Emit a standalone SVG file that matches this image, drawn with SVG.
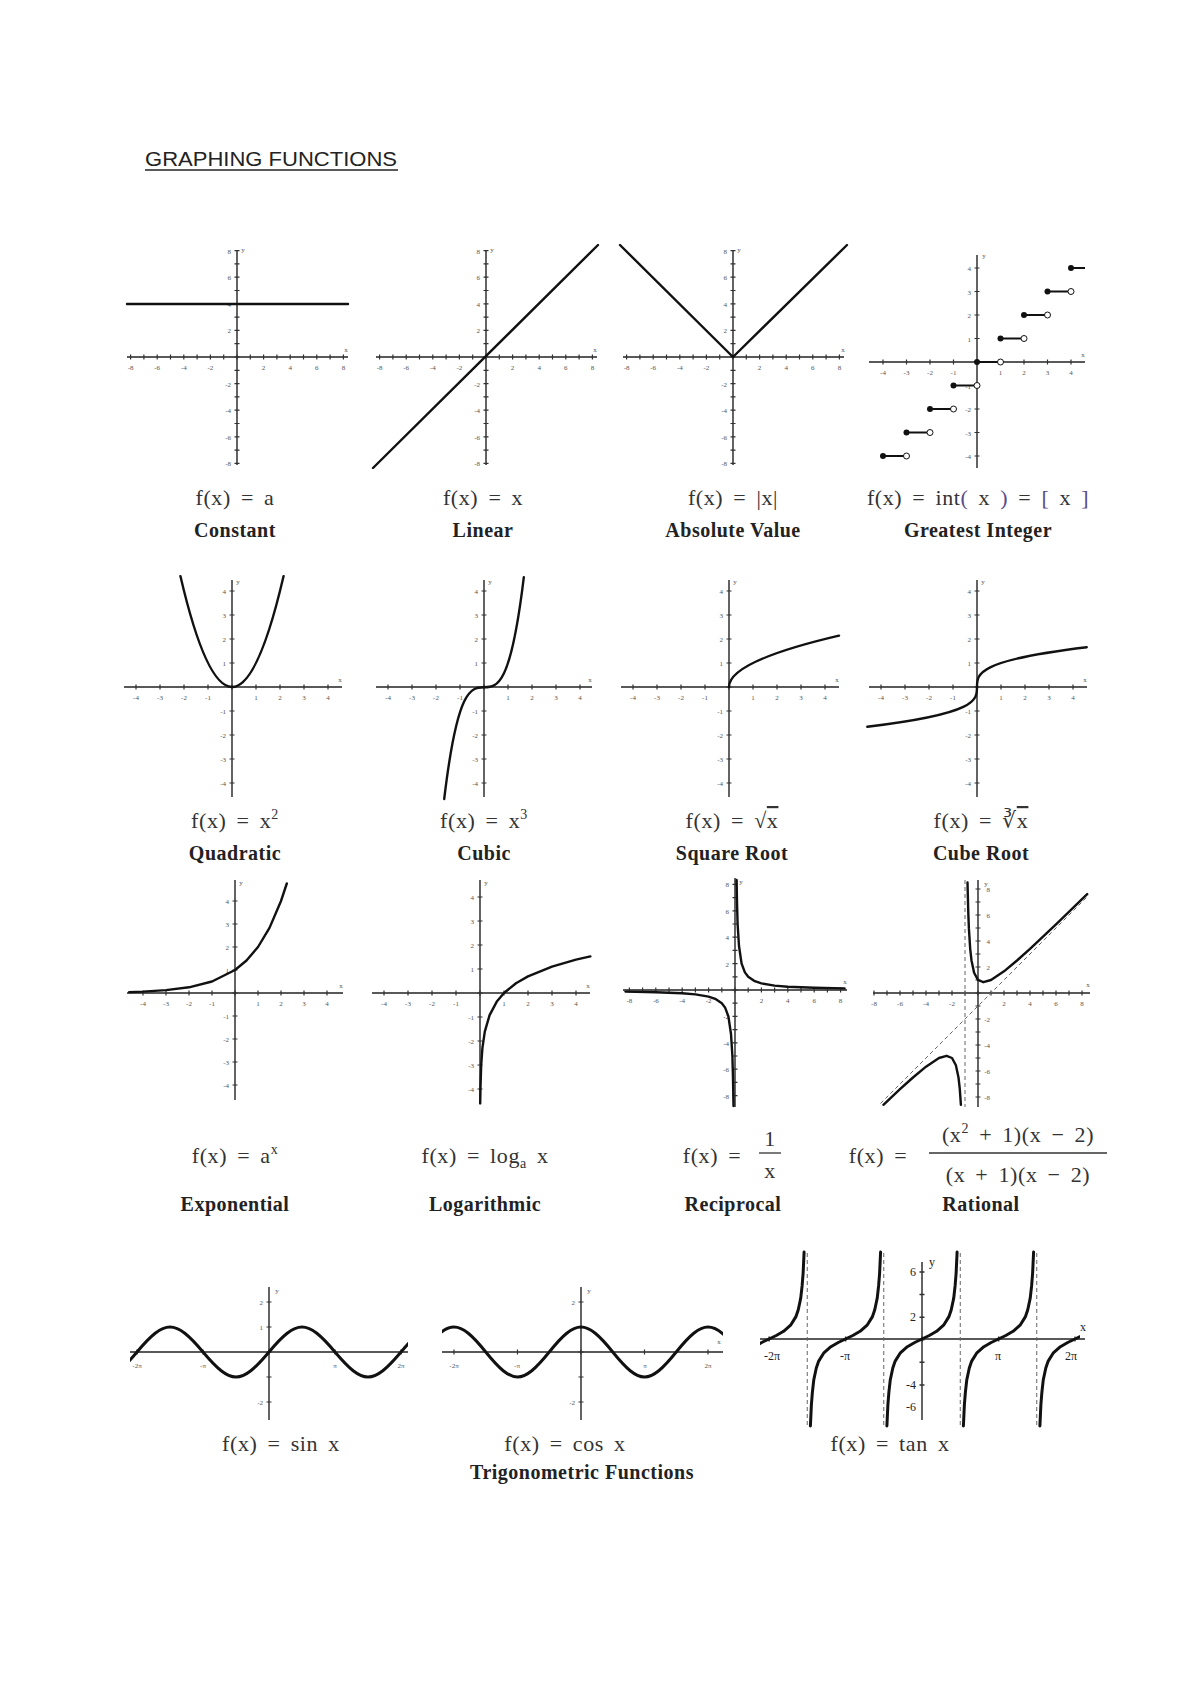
<svg xmlns="http://www.w3.org/2000/svg" xmlns:xlink="http://www.w3.org/1999/xlink" width="1200" height="1696" viewBox="0 0 1200 1696">
<style>
.ax{stroke:#222;stroke-width:1.4;fill:none}
.tk{stroke:#333;stroke-width:5;fill:none}
.cv{stroke:#111;stroke-width:2.4;fill:none;stroke-linejoin:round;stroke-linecap:round}
.cvt{stroke:#111;stroke-width:3;fill:none;stroke-linejoin:round;stroke-linecap:round}
.ds{stroke:#666;stroke-width:1;fill:none;stroke-dasharray:4 3}
.n{font-family:"Liberation Serif",serif;font-size:7px;fill:#555;text-anchor:middle}
.ny{font-family:"Liberation Serif",serif;font-size:7px;fill:#555;text-anchor:end}
.nt{font-family:"Liberation Serif",serif;font-size:12px;fill:#222;text-anchor:middle}
.nte{font-family:"Liberation Serif",serif;font-size:12px;fill:#222;text-anchor:end}
.f{font-family:"Liberation Serif",serif;font-size:22px;fill:#333;text-anchor:middle;letter-spacing:0.6px;word-spacing:4px}
.b{font-family:"Liberation Serif",serif;font-size:20px;font-weight:bold;fill:#222;text-anchor:middle;letter-spacing:0.5px}
.t{font-family:"Liberation Sans",sans-serif;font-size:20px;fill:#222}
</style>
<defs>
<clipPath id="csin"><rect x="130" y="1280" width="278" height="150"/></clipPath>
<clipPath id="ccos"><rect x="442" y="1280" width="281" height="150"/></clipPath>
<clipPath id="ctan"><rect x="760" y="1250" width="320" height="180"/></clipPath>
<path id="tb" d="M-35.1,87 L-34.1,65.5 -33.1,53.1 -31.7,40.7 -29.2,29 -26.8,22.1 -21.9,14.2 -14.6,7.7 -7.3,3.5 0,0 7.3,-3.5 14.6,-7.7 21.9,-14.2 26.8,-22.1 29.2,-29 31.7,-40.7 33.1,-53.1 34.1,-65.5 35.1,-87"/>
</defs>
<rect width="1200" height="1696" fill="#fff"/>
<text class="t" x="145" y="166" textLength="252" lengthAdjust="spacingAndGlyphs">GRAPHING FUNCTIONS</text>
<line x1="145" y1="170" x2="398" y2="170" stroke="#222" stroke-width="1.5"/>

<g id="constant">
<line class="ax" x1="127" y1="357" x2="348" y2="357"/><line class="ax" x1="237" y1="250" x2="237" y2="465"/>
<line class="tk" x1="130" y1="357" x2="344" y2="357" stroke-dasharray="1.2 12.1"/><line class="tk" x1="237" y1="250" x2="237" y2="464" stroke-dasharray="1.2 12.1"/>
<text class="n" y="370"><tspan x="130.6">-8</tspan><tspan x="157.2">-6</tspan><tspan x="183.8">-4</tspan><tspan x="210.4">-2</tspan><tspan x="263.6">2</tspan><tspan x="290.2">4</tspan><tspan x="316.8">6</tspan><tspan x="343.4">8</tspan><tspan x="346" y="352">x</tspan><tspan x="243" y="252">y</tspan></text>
<text class="ny"><tspan x="231" y="253.6">8</tspan><tspan x="231" y="280.2">6</tspan><tspan x="231" y="306.8">4</tspan><tspan x="231" y="333.4">2</tspan><tspan x="231" y="386.6">-2</tspan><tspan x="231" y="413.2">-4</tspan><tspan x="231" y="439.8">-6</tspan><tspan x="231" y="466.4">-8</tspan></text>
<line class="cv" x1="127" y1="304" x2="348" y2="304"/>
<text class="f" x="235" y="505">f(x) = a</text><text class="b" x="235" y="537">Constant</text>
</g>

<g id="linear">
<line class="ax" x1="376" y1="357" x2="597" y2="357"/><line class="ax" x1="486" y1="250" x2="486" y2="465"/>
<line class="tk" x1="379" y1="357" x2="593" y2="357" stroke-dasharray="1.2 12.1"/><line class="tk" x1="486" y1="250" x2="486" y2="464" stroke-dasharray="1.2 12.1"/>
<text class="n" y="370"><tspan x="379.6">-8</tspan><tspan x="406.2">-6</tspan><tspan x="432.8">-4</tspan><tspan x="459.4">-2</tspan><tspan x="512.6">2</tspan><tspan x="539.2">4</tspan><tspan x="565.8">6</tspan><tspan x="592.4">8</tspan><tspan x="595" y="352">x</tspan><tspan x="492" y="252">y</tspan></text>
<text class="ny"><tspan x="480" y="253.6">8</tspan><tspan x="480" y="280.2">6</tspan><tspan x="480" y="306.8">4</tspan><tspan x="480" y="333.4">2</tspan><tspan x="480" y="386.6">-2</tspan><tspan x="480" y="413.2">-4</tspan><tspan x="480" y="439.8">-6</tspan><tspan x="480" y="466.4">-8</tspan></text>
<line class="cv" x1="373" y1="468" x2="598" y2="245"/>
<text class="f" x="483" y="505">f(x) = x</text><text class="b" x="483" y="537">Linear</text>
</g>

<g id="absolute">
<line class="ax" x1="623" y1="357" x2="844" y2="357"/><line class="ax" x1="733" y1="250" x2="733" y2="465"/>
<line class="tk" x1="626" y1="357" x2="840" y2="357" stroke-dasharray="1.2 12.1"/><line class="tk" x1="733" y1="250" x2="733" y2="464" stroke-dasharray="1.2 12.1"/>
<text class="n" y="370"><tspan x="626.6">-8</tspan><tspan x="653.2">-6</tspan><tspan x="679.8">-4</tspan><tspan x="706.4">-2</tspan><tspan x="759.6">2</tspan><tspan x="786.2">4</tspan><tspan x="812.8">6</tspan><tspan x="839.4">8</tspan><tspan x="843" y="352">x</tspan><tspan x="739" y="252">y</tspan></text>
<text class="ny"><tspan x="727" y="253.6">8</tspan><tspan x="727" y="280.2">6</tspan><tspan x="727" y="306.8">4</tspan><tspan x="727" y="333.4">2</tspan><tspan x="727" y="386.6">-2</tspan><tspan x="727" y="413.2">-4</tspan><tspan x="727" y="439.8">-6</tspan><tspan x="727" y="466.4">-8</tspan></text>
<polyline class="cv" points="620,245 733,357 847,245"/>
<text class="f" x="733" y="505">f(x) = |x|</text><text class="b" x="733" y="537">Absolute Value</text>
</g>

<g id="greatest-integer">
<line class="ax" x1="869" y1="362" x2="1085" y2="362"/><line class="ax" x1="977" y1="255" x2="977" y2="468"/>
<line class="tk" x1="882.4" y1="362" x2="1071.6" y2="362" stroke-dasharray="1.2 22.3"/><line class="tk" x1="977" y1="267.4" x2="977" y2="456.6" stroke-dasharray="1.2 22.3"/>
<text class="n" y="375"><tspan x="883">-4</tspan><tspan x="906.5">-3</tspan><tspan x="930">-2</tspan><tspan x="953.5">-1</tspan><tspan x="1000.5">1</tspan><tspan x="1024">2</tspan><tspan x="1047.5">3</tspan><tspan x="1071">4</tspan><tspan x="1083" y="357">x</tspan><tspan x="984" y="258">y</tspan></text>
<text class="ny"><tspan x="971" y="271">4</tspan><tspan x="971" y="294.5">3</tspan><tspan x="971" y="318">2</tspan><tspan x="971" y="341.5">1</tspan><tspan x="971" y="388.5">-1</tspan><tspan x="971" y="412">-2</tspan><tspan x="971" y="435.5">-3</tspan><tspan x="971" y="459">-4</tspan></text>
<g stroke="#111" stroke-width="2">
<line x1="883" y1="456" x2="906.5" y2="456"/><line x1="906.5" y1="432.5" x2="930" y2="432.5"/><line x1="930" y1="409" x2="953.5" y2="409"/><line x1="953.5" y1="385.5" x2="977" y2="385.5"/><line x1="977" y1="362" x2="1000.5" y2="362"/><line x1="1000.5" y1="338.5" x2="1024" y2="338.5"/><line x1="1024" y1="315" x2="1047.5" y2="315"/><line x1="1047.5" y1="291.5" x2="1071" y2="291.5"/><line x1="1071" y1="268" x2="1085" y2="268"/>
</g>
<g fill="#111"><circle cx="883" cy="456" r="3"/><circle cx="906.5" cy="432.5" r="3"/><circle cx="930" cy="409" r="3"/><circle cx="953.5" cy="385.5" r="3"/><circle cx="977" cy="362" r="3"/><circle cx="1000.5" cy="338.5" r="3"/><circle cx="1024" cy="315" r="3"/><circle cx="1047.5" cy="291.5" r="3"/><circle cx="1071" cy="268" r="3"/></g>
<g fill="#fff" stroke="#111" stroke-width="1"><circle cx="906.5" cy="456" r="3"/><circle cx="930" cy="432.5" r="3"/><circle cx="953.5" cy="409" r="3"/><circle cx="977" cy="385.5" r="3"/><circle cx="1000.5" cy="362" r="3"/><circle cx="1024" cy="338.5" r="3"/><circle cx="1047.5" cy="315" r="3"/><circle cx="1071" cy="291.5" r="3"/></g>
<text class="f" x="978" y="505">f(x) = int<tspan fill="#5a4a8a">(</tspan> x <tspan fill="#5a4a8a">)</tspan> = <tspan fill="#5a4a8a">[</tspan> x <tspan fill="#5a4a8a">]</tspan></text><text class="b" x="978" y="537">Greatest Integer</text>
</g>

<g id="quadratic">
<line class="ax" x1="124" y1="687" x2="342" y2="687"/><line class="ax" x1="232" y1="580" x2="232" y2="797"/>
<line class="tk" x1="135.4" y1="687" x2="328.6" y2="687" stroke-dasharray="1.2 22.8"/><line class="tk" x1="232" y1="590.4" x2="232" y2="783.6" stroke-dasharray="1.2 22.8"/>
<text class="n" y="700"><tspan x="136">-4</tspan><tspan x="160">-3</tspan><tspan x="184">-2</tspan><tspan x="208">-1</tspan><tspan x="256">1</tspan><tspan x="280">2</tspan><tspan x="304">3</tspan><tspan x="328">4</tspan><tspan x="340" y="682">x</tspan><tspan x="238" y="584">y</tspan></text>
<text class="ny"><tspan x="226" y="594">4</tspan><tspan x="226" y="618">3</tspan><tspan x="226" y="642">2</tspan><tspan x="226" y="666">1</tspan><tspan x="226" y="714">-1</tspan><tspan x="226" y="738">-2</tspan><tspan x="226" y="762">-3</tspan><tspan x="226" y="786">-4</tspan></text>
<path class="cv" d="M180.4,576.1 Q232,797.9 283.6,576.1"/>
<text class="f" x="235" y="828">f(x) = x<tspan font-size="14" dy="-9">2</tspan></text><text class="b" x="235" y="860">Quadratic</text>
</g>

<g id="cubic">
<line class="ax" x1="376" y1="687" x2="592" y2="687"/><line class="ax" x1="484" y1="580" x2="484" y2="797"/>
<line class="tk" x1="387.4" y1="687" x2="580.6" y2="687" stroke-dasharray="1.2 22.8"/><line class="tk" x1="484" y1="590.4" x2="484" y2="783.6" stroke-dasharray="1.2 22.8"/>
<text class="n" y="700"><tspan x="388">-4</tspan><tspan x="412">-3</tspan><tspan x="436">-2</tspan><tspan x="460">-1</tspan><tspan x="508">1</tspan><tspan x="532">2</tspan><tspan x="556">3</tspan><tspan x="580">4</tspan><tspan x="590" y="682">x</tspan><tspan x="490" y="584">y</tspan></text>
<text class="ny"><tspan x="478" y="594">4</tspan><tspan x="478" y="618">3</tspan><tspan x="478" y="642">2</tspan><tspan x="478" y="666">1</tspan><tspan x="478" y="714">-1</tspan><tspan x="478" y="738">-2</tspan><tspan x="478" y="762">-3</tspan><tspan x="478" y="786">-4</tspan></text>
<path class="cv" d="M444.2,799 C470.7,577.3 497.3,796.7 523.8,577.3"/>
<text class="f" x="484" y="828">f(x) = x<tspan font-size="14" dy="-9">3</tspan></text><text class="b" x="484" y="860">Cubic</text>
</g>

<g id="square-root">
<line class="ax" x1="621" y1="687" x2="839" y2="687"/><line class="ax" x1="729" y1="580" x2="729" y2="797"/>
<line class="tk" x1="632.4" y1="687" x2="825.6" y2="687" stroke-dasharray="1.2 22.8"/><line class="tk" x1="729" y1="590.4" x2="729" y2="783.6" stroke-dasharray="1.2 22.8"/>
<text class="n" y="700"><tspan x="633">-4</tspan><tspan x="657">-3</tspan><tspan x="681">-2</tspan><tspan x="705">-1</tspan><tspan x="753">1</tspan><tspan x="777">2</tspan><tspan x="801">3</tspan><tspan x="825">4</tspan><tspan x="837" y="682">x</tspan><tspan x="735" y="584">y</tspan></text>
<text class="ny"><tspan x="723" y="594">4</tspan><tspan x="723" y="618">3</tspan><tspan x="723" y="642">2</tspan><tspan x="723" y="666">1</tspan><tspan x="723" y="714">-1</tspan><tspan x="723" y="738">-2</tspan><tspan x="723" y="762">-3</tspan><tspan x="723" y="786">-4</tspan></text>
<path class="cv" d="M729,687 Q729,661.3 839,635.6"/>
<text class="f" x="732" y="828">f(x) = √<tspan text-decoration="overline">x</tspan></text><text class="b" x="732" y="860">Square Root</text>
</g>

<g id="cube-root">
<line class="ax" x1="869" y1="687" x2="1087" y2="687"/><line class="ax" x1="977" y1="580" x2="977" y2="797"/>
<line class="tk" x1="880.4" y1="687" x2="1073.6" y2="687" stroke-dasharray="1.2 22.8"/><line class="tk" x1="977" y1="590.4" x2="977" y2="783.6" stroke-dasharray="1.2 22.8"/>
<text class="n" y="700"><tspan x="881">-4</tspan><tspan x="905">-3</tspan><tspan x="929">-2</tspan><tspan x="953">-1</tspan><tspan x="1001">1</tspan><tspan x="1025">2</tspan><tspan x="1049">3</tspan><tspan x="1073">4</tspan><tspan x="1085" y="682">x</tspan><tspan x="983" y="584">y</tspan></text>
<text class="ny"><tspan x="971" y="594">4</tspan><tspan x="971" y="618">3</tspan><tspan x="971" y="642">2</tspan><tspan x="971" y="666">1</tspan><tspan x="971" y="714">-1</tspan><tspan x="971" y="738">-2</tspan><tspan x="971" y="762">-3</tspan><tspan x="971" y="786">-4</tspan></text>
<path class="cv" d="M867.3,726.8 C1086.7,700.3 867.3,673.7 1086.7,647.2"/>
<text class="f" x="981" y="828">f(x) = ∛<tspan text-decoration="overline">x</tspan></text><text class="b" x="981" y="860">Cube Root</text>
</g>

<g id="exponential">
<line class="ax" x1="127" y1="993" x2="343" y2="993"/><line class="ax" x1="235" y1="880" x2="235" y2="1100"/>
<line class="tk" x1="142.4" y1="993" x2="327.6" y2="993" stroke-dasharray="1.2 21.8"/><line class="tk" x1="235" y1="900.4" x2="235" y2="1085.6" stroke-dasharray="1.2 21.8"/>
<text class="n" y="1006"><tspan x="143">-4</tspan><tspan x="166">-3</tspan><tspan x="189">-2</tspan><tspan x="212">-1</tspan><tspan x="258">1</tspan><tspan x="281">2</tspan><tspan x="304">3</tspan><tspan x="327">4</tspan><tspan x="341" y="988">x</tspan><tspan x="241" y="885">y</tspan></text>
<text class="ny"><tspan x="229" y="904">4</tspan><tspan x="229" y="927">3</tspan><tspan x="229" y="950">2</tspan><tspan x="229" y="973">1</tspan><tspan x="229" y="1019">-1</tspan><tspan x="229" y="1042">-2</tspan><tspan x="229" y="1065">-3</tspan><tspan x="229" y="1088">-4</tspan></text>
<polyline class="cv" points="129.2,992.1 143,991.6 166,990.1 189,987.3 212,981.5 235,970 246.5,960.5 258,947 269.5,927.9 281,901 286.8,883.5"/>
<text class="f" x="235" y="1163">f(x) = a<tspan font-size="14" dy="-9">x</tspan></text><text class="b" x="235" y="1211">Exponential</text>
</g>

<g id="logarithmic">
<line class="ax" x1="372" y1="993" x2="590" y2="993"/><line class="ax" x1="480" y1="880" x2="480" y2="1104"/>
<line class="tk" x1="383.4" y1="993" x2="576.6" y2="993" stroke-dasharray="1.2 22.8"/><line class="tk" x1="480" y1="896.4" x2="480" y2="1089.6" stroke-dasharray="1.2 22.8"/>
<text class="n" y="1006"><tspan x="384">-4</tspan><tspan x="408">-3</tspan><tspan x="432">-2</tspan><tspan x="456">-1</tspan><tspan x="504">1</tspan><tspan x="528">2</tspan><tspan x="552">3</tspan><tspan x="576">4</tspan><tspan x="588" y="988">x</tspan><tspan x="486" y="885">y</tspan></text>
<text class="ny"><tspan x="474" y="900">4</tspan><tspan x="474" y="924">3</tspan><tspan x="474" y="948">2</tspan><tspan x="474" y="972">1</tspan><tspan x="474" y="1020">-1</tspan><tspan x="474" y="1044">-2</tspan><tspan x="474" y="1068">-3</tspan><tspan x="474" y="1092">-4</tspan></text>
<polyline class="cv" points="480.2,1103.4 480.5,1086.8 481.2,1065 482.4,1048.2 484.8,1031.6 489.6,1015.1 496.8,1001.6 504,993 516,983.3 528,976.4 552,966.6 576,959.7 590.4,956.4"/>
<text class="f" x="485" y="1163">f(x) = log<tspan font-size="14" dy="5">a</tspan><tspan dy="-5"> x</tspan></text><text class="b" x="485" y="1211">Logarithmic</text>
</g>

<g id="reciprocal">
<line class="ax" x1="623" y1="990" x2="847" y2="990"/><line class="ax" x1="735" y1="878" x2="735" y2="1107"/>
<line class="tk" x1="628.8" y1="990" x2="841.2" y2="990" stroke-dasharray="1.2 12"/><line class="tk" x1="735" y1="883.8" x2="735" y2="1096.2" stroke-dasharray="1.2 12"/>
<text class="n" y="1003"><tspan x="629.4">-8</tspan><tspan x="655.8">-6</tspan><tspan x="682.2">-4</tspan><tspan x="708.6">-2</tspan><tspan x="761.4">2</tspan><tspan x="787.8">4</tspan><tspan x="814.2">6</tspan><tspan x="840.6">8</tspan><tspan x="845" y="984">x</tspan><tspan x="741" y="884">y</tspan></text>
<text class="ny"><tspan x="729" y="887.4">8</tspan><tspan x="729" y="913.8">6</tspan><tspan x="729" y="940.2">4</tspan><tspan x="729" y="966.6">2</tspan><tspan x="729" y="1019.4">-2</tspan><tspan x="729" y="1045.8">-4</tspan><tspan x="729" y="1072.2">-6</tspan><tspan x="729" y="1098.6">-8</tspan></text>
<polyline class="cv" points="736.6,880 737,902 737.6,924 739,946 741.6,963.6 744.9,972.4 748.2,976.8 754.8,981.2 761.4,983.4 774.6,985.6 787.8,986.7 814.2,987.8 844.6,988.4"/>
<polyline class="cv" points="733.5,1106 733,1078 732.4,1056 731,1034 728.4,1016.4 725.1,1007.6 721.8,1003.2 715.2,998.8 708.6,996.6 695.4,994.4 682.2,993.3 655.8,992.2 625.4,991.6"/>
<text class="f" x="712" y="1163">f(x) =</text><text class="f" x="770" y="1146" fill="#2e7d32">1</text><line x1="759" y1="1153" x2="781" y2="1153" stroke="#333" stroke-width="1.3"/><text class="f" x="770" y="1178">x</text>
<text class="b" x="733" y="1211">Reciprocal</text>
</g>

<g id="rational">
<line class="ax" x1="873" y1="993" x2="1090" y2="993"/><line class="ax" x1="978" y1="880" x2="978" y2="1107"/>
<line class="tk" x1="873.4" y1="993" x2="1082.6" y2="993" stroke-dasharray="1.2 11.8"/><line class="tk" x1="978" y1="888.4" x2="978" y2="1097.6" stroke-dasharray="1.2 11.8"/>
<text class="n" y="1006"><tspan x="874">-8</tspan><tspan x="900">-6</tspan><tspan x="926">-4</tspan><tspan x="952">-2</tspan><tspan x="1004">2</tspan><tspan x="1030">4</tspan><tspan x="1056">6</tspan><tspan x="1082">8</tspan><tspan x="1088" y="987">x</tspan><tspan x="986" y="886">y</tspan></text>
<text class="ny"><tspan x="990" y="892">8</tspan><tspan x="990" y="918">6</tspan><tspan x="990" y="944">4</tspan><tspan x="990" y="970">2</tspan><tspan x="990" y="1022">-2</tspan><tspan x="990" y="1048">-4</tspan><tspan x="990" y="1074">-6</tspan><tspan x="990" y="1100">-8</tspan></text>
<line class="ds" x1="965" y1="880" x2="965" y2="1107"/>
<line class="ds" x1="880.5" y1="1103.5" x2="1088.5" y2="895.5"/>
<polyline class="cv" points="967.5,882.5 968.25,911.75 968.9,928.4 970.2,948.8 971.5,960.5 974.1,972.8 978,980 983.4,982.2 991,980 1004,971.3 1017,960.5 1030,948.8 1056,924.3 1087.2,894.1"/>
<polyline class="cv" points="883.4,1104.8 900,1089.2 913,1077.5 926,1066.7 939,1058 946.6,1055.8 952,1058 955.9,1065.2 958.5,1077.5 959.8,1089.2 960.9,1104.8"/>
<text class="f" x="878" y="1163">f(x) =</text>
<text class="f" x="1018" y="1142">(x<tspan font-size="14" dy="-9">2</tspan><tspan dy="9"> + 1)(x − 2)</tspan></text>
<line x1="929" y1="1153" x2="1107" y2="1153" stroke="#333" stroke-width="1.3"/>
<text class="f" x="1018" y="1182">(x + 1)(x − 2)</text>
<text class="b" x="981" y="1211">Rational</text>
</g>

<g id="sine">
<line class="ax" x1="130" y1="1352" x2="408" y2="1352" stroke-width="2"/><line class="ax" x1="269" y1="1287" x2="269" y2="1420" stroke-width="2"/>
<line class="tk" x1="136.4" y1="1352" x2="401.6" y2="1352" stroke-dasharray="1.2 64.8"/><line class="tk" x1="269" y1="1301.4" x2="269" y2="1402.6" stroke-dasharray="1.2 23.8"/>
<text class="n" y="1368" font-size="9"><tspan x="137">-2π</tspan><tspan x="203">-π</tspan><tspan x="335">π</tspan><tspan x="401">2π</tspan><tspan x="277" y="1293">y</tspan></text>
<text class="ny" font-size="10"><tspan x="263" y="1305">2</tspan><tspan x="263" y="1330">1</tspan><tspan x="263" y="1405">-2</tspan></text>
<path class="cvt" clip-path="url(#csin)" d="M71,1352 C99,1385.3 109,1385.3 137,1352 C165,1318.7 175,1318.7 203,1352 C231,1385.3 241,1385.3 269,1352 C297,1318.7 307,1318.7 335,1352 C363,1385.3 373,1385.3 401,1352 C429,1318.7 439,1318.7 467,1352"/>
<text class="f" x="281" y="1451">f(x) = sin x</text>
</g>

<g id="cosine">
<line class="ax" x1="442" y1="1352" x2="723" y2="1352" stroke-width="2"/><line class="ax" x1="581" y1="1287" x2="581" y2="1420" stroke-width="2"/>
<line class="tk" x1="453.4" y1="1352" x2="708.6" y2="1352" stroke-dasharray="1.2 62.3"/><line class="tk" x1="581" y1="1301.4" x2="581" y2="1402.6" stroke-dasharray="1.2 23.8"/>
<text class="n" y="1368" font-size="9"><tspan x="454">-2π</tspan><tspan x="517">-π</tspan><tspan x="645">π</tspan><tspan x="708">2π</tspan><tspan x="589" y="1293">y</tspan><tspan x="719" y="1344">x</tspan></text>
<text class="ny" font-size="10"><tspan x="575" y="1305">2</tspan><tspan x="575" y="1405">-2</tspan></text>
<path class="cvt" clip-path="url(#ccos)" d="M422.25,1352 C449.15,1318.7 458.85,1318.7 485.75,1352 C512.65,1385.3 522.35,1385.3 549.25,1352 C576.15,1318.7 585.85,1318.7 612.75,1352 C639.65,1385.3 649.35,1385.3 676.25,1352 C703.15,1318.7 712.85,1318.7 739.75,1352"/>
<text class="f" x="565" y="1451">f(x) = cos x</text>
<text class="b" x="582" y="1479">Trigonometric Functions</text>
</g>

<g id="tangent">
<line class="ax" x1="760" y1="1339" x2="1085" y2="1339" stroke-width="3"/><line class="ax" x1="922" y1="1262" x2="922" y2="1420" stroke-width="2.5"/>
<line class="tk" x1="768.4" y1="1339" x2="1075.6" y2="1339" stroke-dasharray="1.5 75" stroke-width="8"/><line class="tk" x1="922" y1="1271.2" x2="922" y2="1406.8" stroke-dasharray="1.5 21.1" stroke-width="8"/>
<g class="ds" stroke="#444"><line x1="807.25" y1="1253" x2="807.25" y2="1427"/><line x1="883.75" y1="1253" x2="883.75" y2="1427"/><line x1="960.25" y1="1253" x2="960.25" y2="1427"/><line x1="1036.75" y1="1253" x2="1036.75" y2="1427"/></g>
<g class="cvt" clip-path="url(#ctan)"><use xlink:href="#tb" x="769" y="1339"/><use xlink:href="#tb" x="845.5" y="1339"/><use xlink:href="#tb" x="922" y="1339"/><use xlink:href="#tb" x="998.5" y="1339"/><use xlink:href="#tb" x="1075" y="1339"/></g>
<text class="nt" y="1360"><tspan x="772">-2π</tspan><tspan x="845">-π</tspan><tspan x="998">π</tspan><tspan x="1071">2π</tspan><tspan x="932" y="1266">y</tspan><tspan x="1083" y="1331">x</tspan></text>
<text class="nte"><tspan x="916" y="1276">6</tspan><tspan x="916" y="1321">2</tspan><tspan x="916" y="1389">-4</tspan><tspan x="916" y="1411">-6</tspan></text>
<text class="f" x="890" y="1451">f(x) = tan x</text>
</g>
</svg>
